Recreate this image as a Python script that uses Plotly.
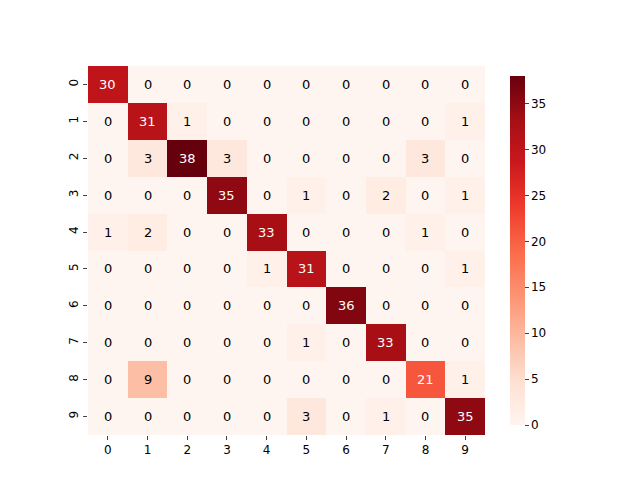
import plotly.graph_objects as go

labels = [str(i) for i in range(10)]
matrix = [
    [30, 0, 0, 0, 0, 0, 0, 0, 0, 0],
    [0, 31, 1, 0, 0, 0, 0, 0, 0, 1],
    [0, 3, 38, 3, 0, 0, 0, 0, 3, 0],
    [0, 0, 0, 35, 0, 1, 0, 2, 0, 1],
    [1, 2, 0, 0, 33, 0, 0, 0, 1, 0],
    [0, 0, 0, 0, 1, 31, 0, 0, 0, 1],
    [0, 0, 0, 0, 0, 0, 36, 0, 0, 0],
    [0, 0, 0, 0, 0, 1, 0, 33, 0, 0],
    [0, 9, 0, 0, 0, 0, 0, 0, 21, 1],
    [0, 0, 0, 0, 0, 3, 0, 1, 0, 35],
]

reds = [[0, "#fff5f0"], [0.125, "#fee0d2"], [0.25, "#fcbba1"], [0.375, "#fc9272"],
        [0.5, "#fb6a4a"], [0.625, "#ef3b2c"], [0.75, "#cb181d"], [0.875, "#a50f15"], [1, "#67000d"]]

fig = go.Figure(go.Heatmap(
    z=matrix, x=labels, y=labels, colorscale=reds, zmin=0, zmax=38, xgap=0, ygap=0,
    colorbar=dict(x=1, xanchor="left", xpad=25, thickness=15, len=1, lenmode="fraction",
                  y=0.5, yanchor="middle", outlinewidth=0, tickvals=[0, 5, 10, 15, 20, 25, 30, 35],
                  ticks="outside", ticklen=4, tickfont=dict(size=12, color="black")),
))
for i, row in enumerate(matrix):
    for j, v in enumerate(row):
        fig.add_annotation(x=labels[j], y=labels[i], text=str(v), showarrow=False,
                           font=dict(size=13, color="white" if v > 15 else "black"))

fig.update_layout(
    width=640, height=480, margin=dict(l=80, r=163, t=58, b=53),
    plot_bgcolor="white", paper_bgcolor="white",
    font=dict(family="DejaVu Sans", size=12, color="black"),
    xaxis=dict(ticks="outside", ticklen=4, showgrid=False, zeroline=False),
    yaxis=dict(ticks="outside", ticklen=4, autorange="reversed", tickangle=-90, showgrid=False, zeroline=False),
)
fig.write_html("out.html")
